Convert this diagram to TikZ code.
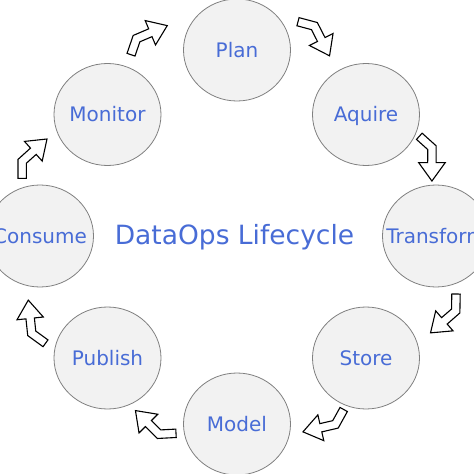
\documentclass[tikz,border=0pt]{standalone}
\usepackage{fontspec}
\setmainfont{DejaVu Sans}
\usetikzlibrary{shapes.geometric}
\definecolor{stagetext}{RGB}{72,108,214}
\definecolor{stagefill}{RGB}{242,242,242}
\definecolor{stageline}{RGB}{128,128,128}
\newcommand{\stagename}[1]{\makebox[0pt]{#1}}
\tikzset{
	pics/cyclearrow/.style={code={
		\filldraw [arrowline] (0,4.2) -- (18.9,4.2) -- (30.2,-8.3) -- (36.9,-2.3) -- (39.3,-24.8) -- (17.2,-20) -- (23.9,-14) -- (15.1,-4.2) -- (0,-4.2) -- cycle;
	}}
}
\begin{document}
\begin{tikzpicture}[x=1pt,y=1pt]
			\tikzstyle{every node}+=[inner sep=0pt]
			\tikzstyle{stage}=[ellipse, draw=stageline, fill=stagefill, line width=0.8pt, minimum width=107pt, minimum height=102pt, text=stagetext, font=\fontsize{20}{24}\selectfont, text height=14.5pt, text depth=0pt]
			\tikzstyle{arrowline}=[draw=black, fill=white, line width=1.1pt, line join=miter]
			\useasboundingbox (0,-474) rectangle (474,0);
			\clip (0,-474) rectangle (474,0);
			\node [stage] (plan) at (237,-50) {\stagename{Plan}};
			\node [stage] (aquire) at (366,-114.5) {\stagename{Aquire}};
			\node [stage] (transform) at (436,-236) {\stagename{Transform}};
			\node [stage] (store) at (366,-358) {\stagename{Store}};
			\node [stage] (model) at (237,-424) {\stagename{Model}};
			\node [stage] (publish) at (107.5,-358) {\stagename{Publish}};
			\node [stage] (consume) at (40,-236) {\stagename{Consume}};
			\node [stage] (monitor) at (107.5,-114.5) {\stagename{Monitor}};
			\node [anchor=base, text=stagetext, font=\fontsize{26.5}{32}\selectfont] (title) at (234.5,-244.3) {DataOps Lifecycle};
			\pic [rotate=71] at (131,-54.7) {cyclearrow};
			\pic [rotate=-15] at (298,-21.7) {cyclearrow};
			\pic [rotate=-42] at (419.3,-136.3) {cyclearrow};
			\pic [rotate=-91] at (456,-294) {cyclearrow};
			\pic [rotate=-119] at (343.7,-409.5) {cyclearrow};
			\pic [rotate=183] at (176,-433.3) {cyclearrow};
			\pic [rotate=144] at (45.5,-343.3) {cyclearrow};
			\pic [rotate=90] at (22.2,-178.3) {cyclearrow};
	\end{tikzpicture}
\end{document}
